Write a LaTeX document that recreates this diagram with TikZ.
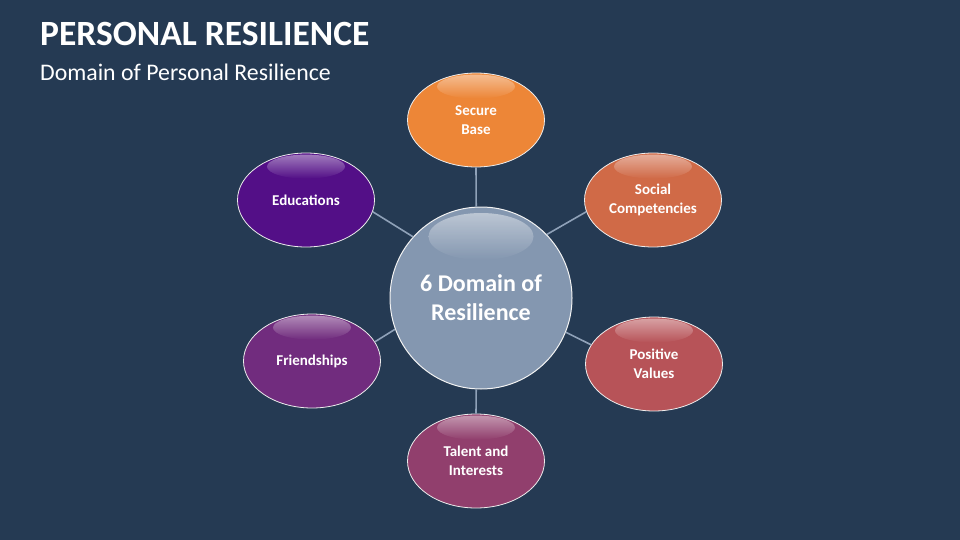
\documentclass[tikz,border=0pt]{standalone}
\usepackage{fontspec}
\setmainfont{Carlito}
\usetikzlibrary{shapes.geometric}

\definecolor{slide}{HTML}{253A53}
\definecolor{hubblue}{HTML}{8497B0}
\definecolor{spokeblue}{HTML}{8FA1B8}
\definecolor{cSecure}{HTML}{ED8637}
\definecolor{cSocial}{HTML}{D06A47}
\definecolor{cValues}{HTML}{B75358}
\definecolor{cTalent}{HTML}{913F6D}
\definecolor{cFriend}{HTML}{712C7E}
\definecolor{cEduc}{HTML}{530F87}

\tikzset{
	petal/.style={ellipse,draw=white!85!gray,line width=0.8pt,fill=#1,
		minimum width=137pt,minimum height=94pt,inner sep=0pt,
		text=white,align=center,font=\fontsize{15}{19.5}\bfseries\selectfont},
	gloss/.style={ellipse,inner sep=0pt,minimum width=78pt,minimum height=24pt,
		top color=white,bottom color=#1,fill opacity=0.45},
	spoke/.style={draw=spokeblue,line width=1.6pt}
}

\begin{document}
\begin{tikzpicture}[x=1pt,y=-1pt]
	\fill[slide] (0,0) rectangle (960,540);
	\useasboundingbox (0,0) rectangle (960,540);

	% title
	\node[anchor=base west,inner sep=0pt,text=white,font=\fontsize{35.5}{40}\bfseries\selectfont] (title) at (40,46) {PERSONAL RESILIENCE};
	\node[anchor=base west,inner sep=0pt,text=white,font=\fontsize{23.8}{28}\selectfont] (subtitle) at (40,81) {Domain of Personal Resilience};

	% hub
	\node[circle,draw=white!90!gray,line width=1pt,fill=hubblue,minimum size=182pt,inner sep=0pt,
		text=white,align=center,font=\fontsize{24}{29}\bfseries\selectfont] (hub) at (481,298) {6 Domain of\\Resilience};

	% domains
	\node[petal=cSecure] (secure) at (476,120) {Secure\\Base};
	\node[petal=cSocial] (social) at (653,200) {Social\\Competencies};
	\node[petal=cValues] (values) at (654,364) {Positive\\Values};
	\node[petal=cTalent] (talent) at (476,461) {Talent and\\Interests};
	\node[petal=cFriend] (friend) at (312,361) {Friendships};
	\node[petal=cEduc] (educ) at (306,200) {Educations};

	% spokes
	\draw[spoke] (secure.south) -- (hub.93);
	\draw[spoke] (social.190) -- (hub.44);
	\draw[spoke] (values.163) -- (hub.-22);
	\draw[spoke] (talent.north) -- (hub.267);
	\draw[spoke] (friend.17) -- (hub.200);
	\draw[spoke] (educ.-10) -- (hub.138);

	% gloss
	\path (hub.north) ++(0,30) node[gloss=hubblue,minimum width=105pt,minimum height=47pt] (hubgloss) {};
	\path (secure.north) ++(0,14) node[gloss=cSecure] (securegloss) {};
	\path (social.north) ++(0,14) node[gloss=cSocial] (socialgloss) {};
	\path (values.north) ++(0,14) node[gloss=cValues] (valuesgloss) {};
	\path (talent.north) ++(0,14) node[gloss=cTalent] (talentgloss) {};
	\path (friend.north) ++(0,14) node[gloss=cFriend] (friendgloss) {};
	\path (educ.north) ++(0,14) node[gloss=cEduc] (educgloss) {};
\end{tikzpicture}
\end{document}
